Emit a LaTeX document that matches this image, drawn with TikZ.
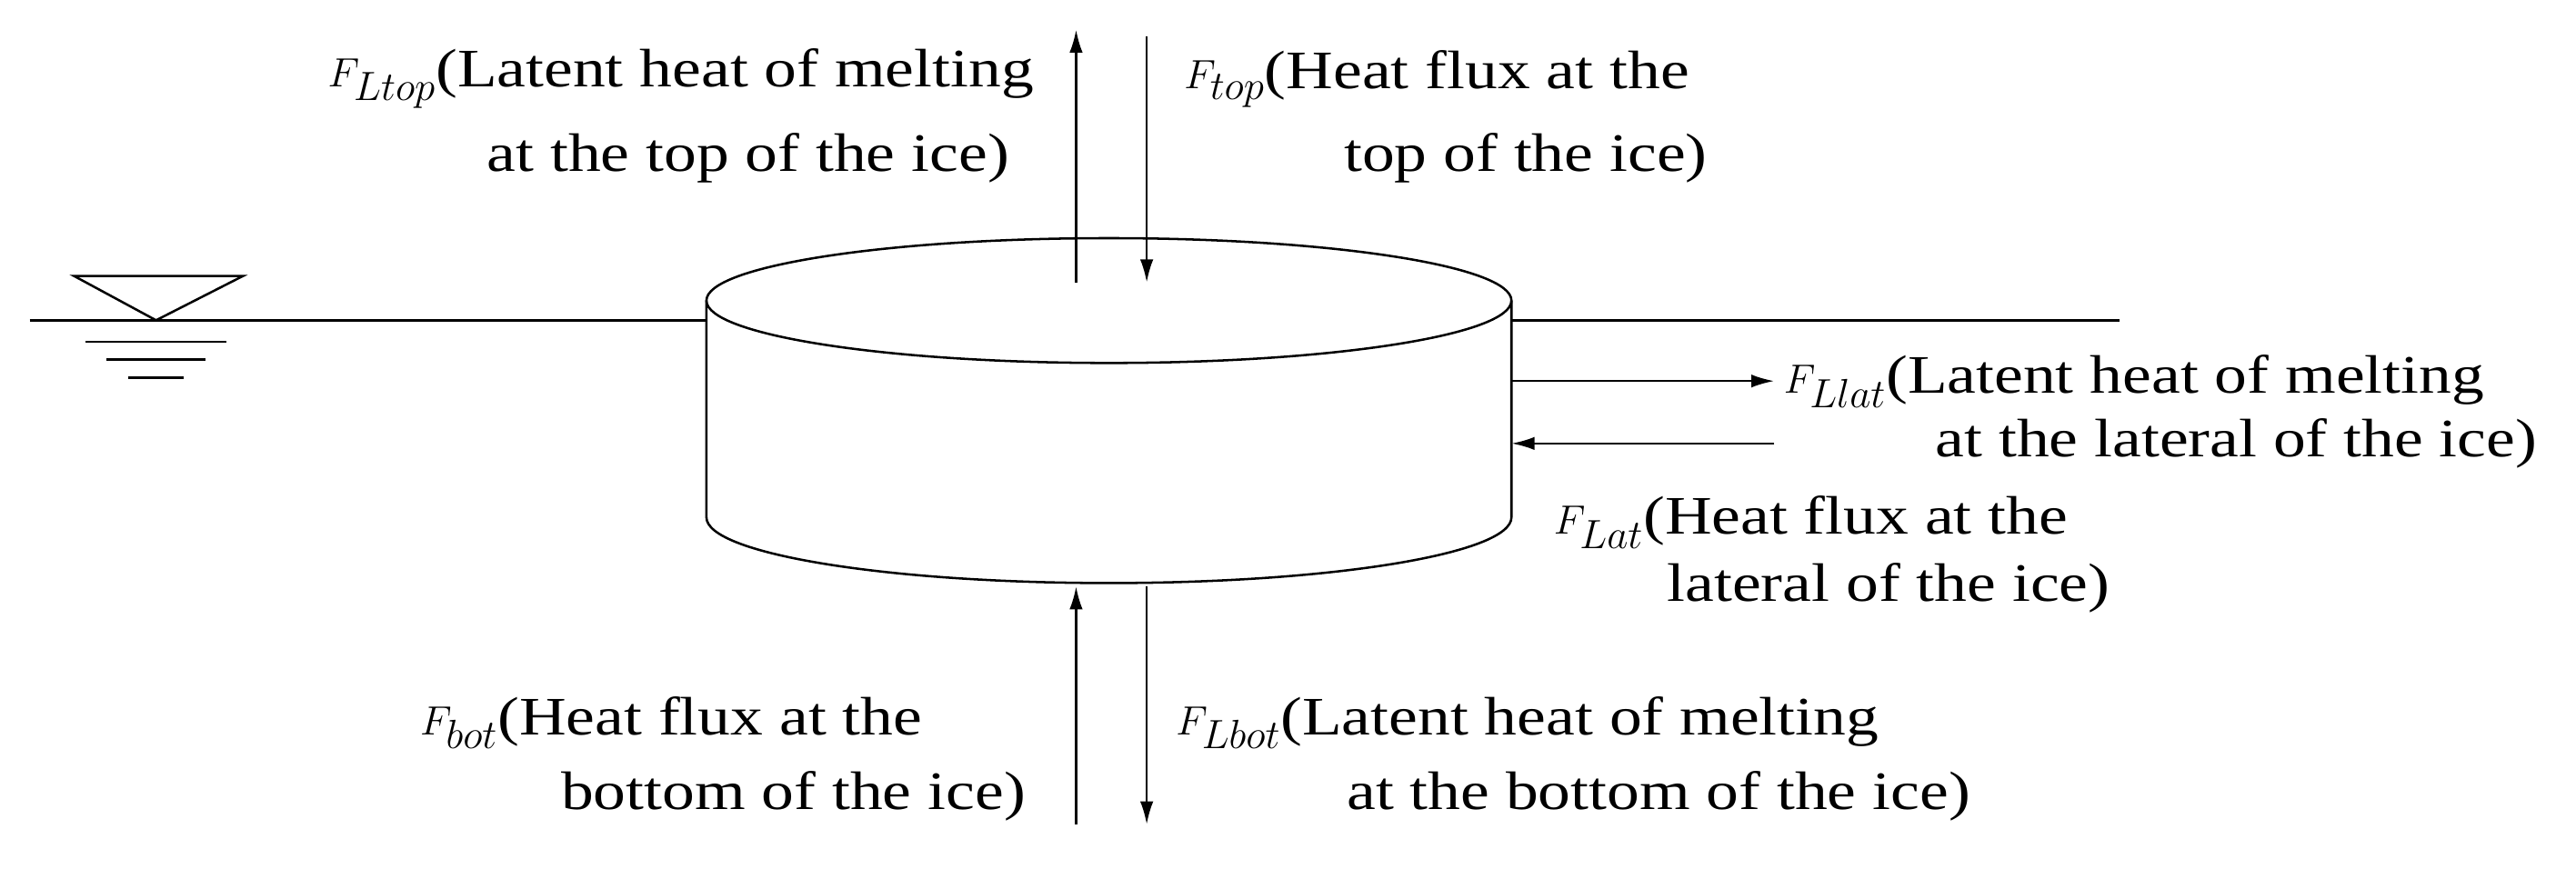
\documentclass[tikz,border=0pt]{standalone}
\usepackage{fontspec}
\setmainfont{Liberation Serif}[FakeStretch=1.2]
\usetikzlibrary{arrows.meta}
\begin{document}
\begin{tikzpicture}[x=1pt,y=-1pt,line width=1.6pt,
  lbl/.style={inner sep=0pt,font=\fontsize{33}{48}\selectfont,align=right},
  arr/.style={-{Latex[length=14pt,width=8pt]}},
  ln/.style={line width=1.4pt}]
\useasboundingbox (0,0) rectangle (1568,528.6);
% water
\coordinate (wl1) at (18,195); \coordinate (wl2) at (430,195);
\coordinate (wr1) at (920,195); \coordinate (wr2) at (1290,195);
\draw[ln] (wl1) -- (wl2); \draw[ln] (wr1) -- (wr2);
\draw[ln] (95,195) -- (45,168) -- (148,168) -- cycle;
\draw[ln] (52,208) -- (138,208); \draw[ln] (65,219) -- (125,219); \draw[ln] (78,230) -- (112,230);
% cylinder
\draw[ln,fill=white] (430,183) -- (430,315) arc[start angle=180,end angle=360,x radius=245,y radius=-40] -- (920,183);
\draw[ln] (675,183) ellipse [x radius=245,y radius=38];
% arrows
\coordinate (a1) at (655,172); \coordinate (a2) at (655,18);
\coordinate (b1) at (698,22); \coordinate (b2) at (698,172);
\coordinate (c1) at (655,502); \coordinate (c2) at (655,357);
\coordinate (d1) at (698,357); \coordinate (d2) at (698,502);
\coordinate (e1) at (920,232); \coordinate (e2) at (1080,232);
\coordinate (f1) at (1080,270); \coordinate (f2) at (920,270);
\foreach \s/\t in {a1/a2,b1/b2,c1/c2,d1/d2,e1/e2,f1/f2} \draw[ln,arr] (\s) -- (\t);
% labels
\node[lbl,anchor=east] (t1) at (630,48) {$F_{Ltop}$(Latent heat of melting};
\node[lbl,anchor=east] (t2) at (615,96) {at the top of the ice)};
\node[lbl,anchor=west] (t3) at (720,48) {$F_{top}$(Heat flux at the};
\node[lbl,anchor=east] (t4) at (1040,96) {top of the ice)};
\node[lbl,anchor=west] (t5) at (1085,232) {$F_{Llat}$(Latent heat of melting};
\node[lbl,anchor=east] (t6) at (1545,270) {at the lateral of the ice)};
\node[lbl,anchor=west] (t7) at (945,318) {$F_{Lat}$(Heat flux at the};
\node[lbl,anchor=east] (t8) at (1285,358) {lateral of the ice)};
\node[lbl,anchor=west] (t9) at (255,440) {$F_{bot}$(Heat flux at the};
\node[lbl,anchor=east] (t10) at (625,485) {bottom of the ice)};
\node[lbl,anchor=west] (t11) at (715,440) {$F_{Lbot}$(Latent heat of melting};
\node[lbl,anchor=east] (t12) at (1200,485) {at the bottom of the ice)};
\end{tikzpicture}
\end{document}
